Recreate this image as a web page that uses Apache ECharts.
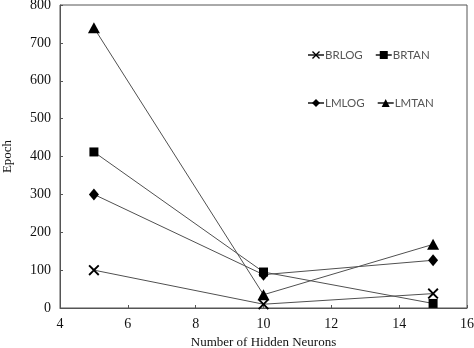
<!DOCTYPE html>
<html><head><meta charset="utf-8">
<script src="https://cdn.jsdelivr.net/npm/echarts@6/dist/echarts.min.js"></script>
<style>html,body{margin:0;padding:0;background:#fff}#c{width:474px;height:348px}</style>
</head><body><div id="c"></div>
<script>
const xValues = [5, 10, 15];
const BRLOG = [100, 10, 38];
const BRTAN = [412, 95, 12];
const LMLOG = [300, 88, 126];
const LMTAN = [740, 35, 168];
const xTicks = [4, 6, 8, 10, 12, 14, 16];
const yTicks = [0, 100, 200, 300, 400, 500, 600, 700, 800];

const X_PATH = 'path://M0,1.2L1.2,0L5,3.8L8.8,0L10,1.2L6.2,5L10,8.8L8.8,10L5,6.2L1.2,10L0,8.8L3.8,5Z';
function mk(name, vals, symbol, size) {
  return {
    name: name, type: 'line', data: xValues.map((x, i) => [x, vals[i]]),
    symbol: symbol, symbolSize: size, showSymbol: true,
    lineStyle: { color: '#505050', width: 1 },
    itemStyle: { color: '#000' },
    emphasis: { disabled: true }, animation: false, z: 3
  };
}
const chart = echarts.init(document.getElementById('c'));
const serif = 'Liberation Serif';
const legText = { fontFamily: 'Lato', fontSize: 11.5, color: '#555', padding: [0, 0, 0, -4] };
chart.setOption({
  animation: false,
  grid: { left: 60, right: 7, top: 5, bottom: 40, show: true, borderColor: '#555', borderWidth: 1,
          containLabel: false, outerBoundsMode: 'none' },
  xAxis: {
    type: 'value', min: 4, max: 16, interval: 2,
    name: 'Number of Hidden Neurons', nameLocation: 'middle', nameGap: 24,
    nameTextStyle: { fontFamily: serif, fontSize: 13, color: '#111' },
    axisLine: { lineStyle: { color: '#555' } },
    axisTick: { inside: true, length: 3, lineStyle: { color: '#555' } },
    axisLabel: { fontFamily: serif, fontSize: 14, color: '#111', margin: 9, hideOverlap: false },
    splitLine: { show: false }
  },
  yAxis: {
    type: 'value', min: 0, max: 800, interval: 100,
    name: 'Epoch', nameLocation: 'middle', nameGap: 46, nameRotate: 90,
    nameTextStyle: { fontFamily: serif, fontSize: 13, color: '#111' },
    axisLine: { show: true, lineStyle: { color: '#555' } },
    axisTick: { show: true, inside: true, length: 3, lineStyle: { color: '#555' } },
    axisLabel: { fontFamily: serif, fontSize: 14, color: '#111', margin: 9 },
    splitLine: { show: false }
  },
  legend: [
    { data: ['BRLOG', 'BRTAN'], left: 302, top: 44, itemWidth: 16, itemHeight: 10, itemGap: 12, textStyle: legText },
    { data: ['LMLOG', 'LMTAN'], left: 302, top: 92, itemWidth: 16, itemHeight: 10, itemGap: 12, textStyle: legText }
  ],
  series: [
    mk('BRLOG', BRLOG, X_PATH, 11),
    mk('BRTAN', BRTAN, 'rect', 9),
    mk('LMLOG', LMLOG, 'diamond', [10, 12]),
    mk('LMTAN', LMTAN, 'triangle', [12, 11])
  ]
});
</script></body></html>
